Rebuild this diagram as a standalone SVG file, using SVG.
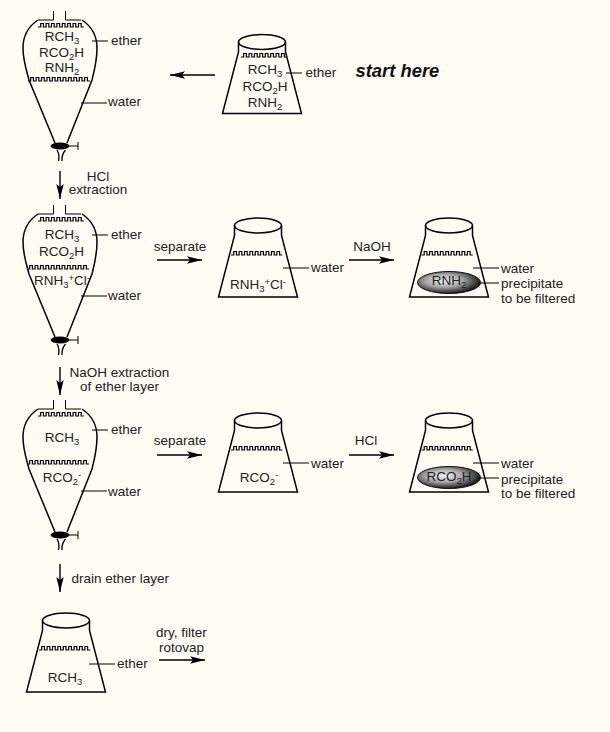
<svg xmlns="http://www.w3.org/2000/svg" xmlns:xlink="http://www.w3.org/1999/xlink" width="610" height="732" viewBox="0 0 610 732">
<style>
text{font-family:"Liberation Sans",Arial,sans-serif;font-size:13.500px;fill:#222}
.m{text-anchor:middle}
.s{font-size:9.500px}
.o{fill:none;stroke:#000;stroke-width:1.5}
.t{fill:none;stroke:#000;stroke-width:1}
.w{fill:none;stroke:#000;stroke-width:1.2}
.a{fill:none;stroke:#000;stroke-width:1.4;marker-end:url(#h)}
</style>
<defs>
<marker id="h" markerUnits="userSpaceOnUse" markerWidth="16" markerHeight="10" refX="15" refY="5" orient="auto"><path d="M0 1.300 L15 5 L0 8.700 L3 5Z" fill="#000"/></marker>
<radialGradient id="g" cx="0.42" cy="0.42" r="0.58"><stop offset="0" stop-color="#f2f2f2"/><stop offset="0.5" stop-color="#a8a8a8"/><stop offset="1" stop-color="#1c1c1c"/></radialGradient>
<path id="w8" class="w" d="M0 0h2.700v-3.500h2.700v3.500h2.700v-3.500h2.700v3.500h2.700v-3.500h2.700v3.500h2.700v-3.500h2.700v3.500h2.700v-3.500h2.700v3.500h2.700v-3.500h2.700v3.500h2.700v-3.500h2.700v3.500h2.700v-3.500h2.700v3.500h2.700"/>
<path id="w10" class="w" d="M0 0h2.700v-3.500h2.700v3.500h2.700v-3.500h2.700v3.500h2.700v-3.500h2.700v3.500h2.700v-3.500h2.700v3.500h2.700v-3.500h2.700v3.500h2.700v-3.500h2.700v3.500h2.700v-3.500h2.700v3.500h2.700v-3.500h2.700v3.500h2.700v-3.500h2.700v3.500h2.700"/>
<path id="w12" class="w" d="M0 0h2.700v-3.500h2.700v3.500h2.700v-3.500h2.700v3.500h2.700v-3.500h2.700v3.500h2.700v-3.500h2.700v3.500h2.700v-3.500h2.700v3.500h2.700v-3.500h2.700v3.500h2.700v-3.500h2.700v3.500h2.700v-3.500h2.700v3.500h2.700v-3.500h2.700v3.500h2.700v-3.500h2.700v3.500h2.700v-3.500h2.700v3.500h2.700"/>
<g id="funnel">
<path class="o" d="M38 20 C29 26 23 36 23 48 C23 61 27 72 29 80 L55 143 M82 20 C91 26 97 36 97 48 C97 61 94 72 92 80 L67 143"/>
<path class="t" d="M53.500 11V20H38M65.500 11V20H81M69 146H78M78 142V150"/>
<path class="t" style="stroke-width:1.300" d="M57 150C59 153 59.500 156 58.500 161M65.500 150C63 153 61.500 156 62 161"/>
<ellipse cx="60" cy="146" rx="9.500" ry="3.500" fill="#000"/>
<use href="#w8" x="38" y="27"/>
</g>
<g id="flask">
<ellipse class="o" cx="0" cy="0" rx="23.500" ry="7.500"/>
<path class="o" d="M-23.500 0V10L-39.500 71.500H39.500L23.500 10V0"/>
</g>
</defs>
<rect width="610" height="732" fill="#fffdf3"/>
<g id="connectors">
<path class="a" d="M215 75H170"/>
<path class="a" d="M60 171V199"/>
<path class="a" d="M60 367V395"/>
<path class="a" d="M60 564V592"/>
<path class="a" d="M157 260H202"/>
<path class="a" d="M349 260H394"/>
<path class="a" d="M157 455H202"/>
<path class="a" d="M349 455H394"/>
<path class="a" d="M159 660H205"/>
</g>
<g id="funnel1">
<use href="#funnel"/><use href="#w12" x="28" y="81"/>
<path class="t" d="M92 41H108M81 103H107"/>
<text class="m" x="62" y="41">RCH<tspan class="s" dy="3">3</tspan></text>
<text class="m" x="61.500" y="57">RCO<tspan class="s" dy="3">2</tspan><tspan dy="-3">H</tspan></text>
<text class="m" x="62" y="72">RNH<tspan class="s" dy="3">2</tspan></text>
<text x="111" y="45">ether</text><text x="108" y="106">water</text>
</g>
<g id="funnel2">
<use href="#funnel" y="194"/><use href="#w12" x="27" y="269"/>
<path class="t" d="M92 235H108M81 296H107"/>
<text class="m" x="62" y="239">RCH<tspan class="s" dy="3">3</tspan></text>
<text class="m" x="61.500" y="256">RCO<tspan class="s" dy="3">2</tspan><tspan dy="-3">H</tspan></text>
<text class="m" x="62" y="285">RNH<tspan class="s" dy="3">3</tspan><tspan class="s" dy="-7">+</tspan><tspan dy="4">Cl</tspan><tspan class="s" dy="-4">-</tspan></text>
<text x="111" y="239">ether</text><text x="108" y="300">water</text>
</g>
<g id="funnel3">
<use href="#funnel" y="389"/><use href="#w12" x="27" y="464"/>
<path class="t" d="M92 430H108M81 491H107"/>
<text class="m" x="62" y="442">RCH<tspan class="s" dy="3">3</tspan></text>
<text class="m" x="62" y="482">RCO<tspan class="s" dy="3">2</tspan><tspan class="s" dy="-7">-</tspan></text>
<text x="111" y="434">ether</text><text x="108" y="496">water</text>
</g>
<g id="flask-start">
<use href="#flask" x="262" y="42"/><use href="#w8" x="241" y="57"/>
<path class="t" d="M286 73H302"/>
<text class="m" x="265" y="74">RCH<tspan class="s" dy="3">3</tspan></text>
<text class="m" x="265" y="91">RCO<tspan class="s" dy="3">2</tspan><tspan dy="-3">H</tspan></text>
<text class="m" x="265" y="107">RNH<tspan class="s" dy="3">2</tspan></text>
<text x="305.500" y="77">ether</text>
</g>
<g id="flask-amine">
<use href="#flask" x="258" y="225.500"/><use href="#w10" x="231" y="255"/>
<path class="t" d="M283 268H309"/>
<text class="m" x="258" y="289">RNH<tspan class="s" dy="3">3</tspan><tspan class="s" dy="-7">+</tspan><tspan dy="4">Cl</tspan><tspan class="s" dy="-4">-</tspan></text>
<text x="311" y="272">water</text>
</g>
<g id="flask-amine-ppt">
<use href="#flask" x="449" y="225.500"/><use href="#w10" x="421.500" y="255"/>
<ellipse cx="449" cy="282.500" rx="31.500" ry="11" fill="url(#g)" stroke="#111"/>
<path class="t" d="M473 268H499M478 283H499"/>
<text class="m" x="449" y="285">RNH<tspan class="s" dy="3">2</tspan></text>
<text x="501" y="272.500">water</text><text x="501" y="288">precipitate</text><text x="501" y="303">to be filtered</text>
</g>
<g id="flask-acid">
<use href="#flask" x="258" y="420.500"/><use href="#w10" x="231" y="450"/>
<path class="t" d="M283 463H309"/>
<text class="m" x="259" y="482">RCO<tspan class="s" dy="3">2</tspan><tspan class="s" dy="-7">-</tspan></text>
<text x="311" y="467.500">water</text>
</g>
<g id="flask-acid-ppt">
<use href="#flask" x="449" y="420.500"/><use href="#w10" x="421.500" y="450"/>
<ellipse cx="449" cy="477.500" rx="31.500" ry="11" fill="url(#g)" stroke="#111"/>
<path class="t" d="M473 463H499M478 478H499"/>
<text class="m" x="449" y="481">RCO<tspan class="s" dy="3">2</tspan><tspan dy="-3">H</tspan></text>
<text x="501" y="467.500">water</text><text x="501" y="483.500">precipitate</text><text x="501" y="498">to be filtered</text>
</g>
<g id="flask-final">
<use href="#flask" x="66" y="620.500"/><use href="#w10" x="39" y="650"/>
<path class="t" d="M89 664H115"/>
<text class="m" x="65" y="682">RCH<tspan class="s" dy="3">3</tspan></text>
<text x="117" y="667.500">ether</text>
</g>
<g id="labels">
<text x="355.500" y="76.500" style="font-size:18.400px;font-weight:bold;font-style:italic;fill:#111">start here</text>
<text class="m" x="98" y="181">HCl</text><text class="m" x="98" y="194">extraction</text>
<text class="m" x="119.500" y="377">NaOH extraction</text><text class="m" x="119.500" y="391">of ether layer</text>
<text x="71.500" y="583">drain ether layer</text>
<text class="m" x="180" y="251">separate</text><text class="m" x="372" y="251">NaOH</text>
<text class="m" x="180" y="445">separate</text><text class="m" x="366" y="445">HCl</text>
<text class="m" x="181.500" y="637">dry, filter</text><text class="m" x="181.500" y="652">rotovap</text>
</g>
</svg>
